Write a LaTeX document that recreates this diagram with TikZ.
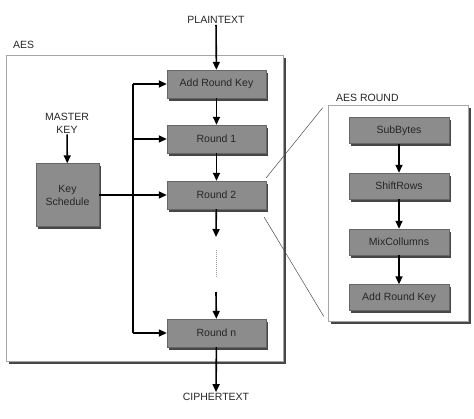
\documentclass[tikz,border=0pt]{standalone}
\usepackage{fontspec}
\setmainfont{Liberation Sans}
\usetikzlibrary{
	arrows.meta,
	shadows,
	calc
}
\colorlet{BoxGray}{black!45}
\colorlet{EdgeGray}{black!60}
\colorlet{ShadeGray}{black!72}
\colorlet{InkGray}{black!85}

\begin{document}
\begin{tikzpicture}[x=1pt, y=-1pt, font=\fontsize{10.5}{13}\selectfont, text=InkGray,
	stage/.style={draw=EdgeGray, fill=BoxGray, minimum width=99pt, minimum height=28pt,
		inner sep=0pt, align=center,
		drop shadow={shadow xshift=2pt, shadow yshift=-2.5pt, fill=ShadeGray, opacity=1}},
	frame/.style={draw=black!35, fill=white, line width=0.6pt, inner sep=0pt,
		drop shadow={shadow xshift=2.5pt, shadow yshift=-2.5pt, fill=ShadeGray, opacity=1}},
	flow/.style={line width=1.6pt, -{Triangle[length=8pt,width=7pt]}},
	busline/.style={line width=1.6pt},
	zoomline/.style={black!70, line width=0.5pt}]
	
	\useasboundingbox (0,0) rectangle (474,418);
	
	% -- Outer AES frame ---------------------------------------
	\node[frame, minimum width=277pt, minimum height=306pt] (aes) at (144.5,208) {};
	\node[anchor=base west, inner sep=0pt] (aeslabel) at (13,48) {AES};
	
	% -- Cipher rounds -----------------------------------------
	\node[inner sep=1pt] (plain) at (216,20) {PLAINTEXT};
	\node[stage] (ark) at (216.5,84) {Add Round Key};
	\node[stage] (r1) at (216.5,139) {Round 1};
	\node[stage] (r2) at (216.5,195) {Round 2};
	\node[stage] (rn) at (216.5,333) {Round n};
	\node[inner sep=1pt] (cipher) at (216,397) {CIPHERTEXT};
	
	\draw[flow] (plain) -- (ark);
	\draw[flow] (ark) -- (r1);
	\draw[flow] (r1) -- (r2);
	\coordinate (r2out) at (216,237);
	\draw[flow] (r2) -- (r2out);
	\draw[black!40, line width=0.8pt, dash pattern=on 1pt off 1pt] (216,250) -- (216,278);
	\coordinate (rnin) at (216,292);
	\draw[flow] (rnin) -- (rn);
	\draw[flow] (rn) -- (cipher);
	
	% -- Key schedule and round-key bus ------------------------
	\node[align=center, inner sep=1pt] (master) at (67,123) {MASTER\\KEY};
	\node[stage, minimum width=63pt, minimum height=63pt] (ks) at (67.5,195) {Key\\Schedule};
	\draw[flow] (master) -- (ks);
	
	\coordinate (bustop) at (133,84);
	\coordinate (busbot) at (133,333);
	\draw[busline] (bustop) -- (busbot);
	\draw[flow] (bustop) -- (ark.west);
	\draw[flow] (r1.west -| bustop) -- (r1.west);
	\draw[flow] (ks.east) -- (r2.west);
	\draw[flow] (busbot) -- (rn.west);
	
	% -- AES ROUND detail --------------------------------------
	\node[frame, minimum width=140pt, minimum height=216pt] (round) at (398,213) {};
	\node[anchor=base west, inner sep=0pt] (roundlabel) at (336,101) {AES ROUND};
	
	\node[stage, minimum width=100pt, minimum height=26pt] (sub) at (399,130.5) {SubBytes};
	\node[stage, minimum width=100pt, minimum height=26pt] (shift) at (399,186) {ShiftRows};
	\node[stage, minimum width=100pt, minimum height=26pt] (mix) at (399,242) {MixCollumns};
	\node[stage, minimum width=100pt, minimum height=26pt] (rk) at (399,297.5) {Add Round Key};
	
	\draw[flow] (sub) -- (shift);
	\draw[flow] (shift) -- (mix);
	\draw[flow] (mix) -- (rk);
	
	% zoom lines from Round 2 to the detail frame
	\draw[zoomline] ([shift={(0,-3)}]r2.north east) -- ([shift={(-5,3)}]round.north west);
	\draw[zoomline] ([shift={(-2,8)}]r2.south east) -- ([shift={(-4,-5)}]round.south west);
	
\end{tikzpicture}
\end{document}
